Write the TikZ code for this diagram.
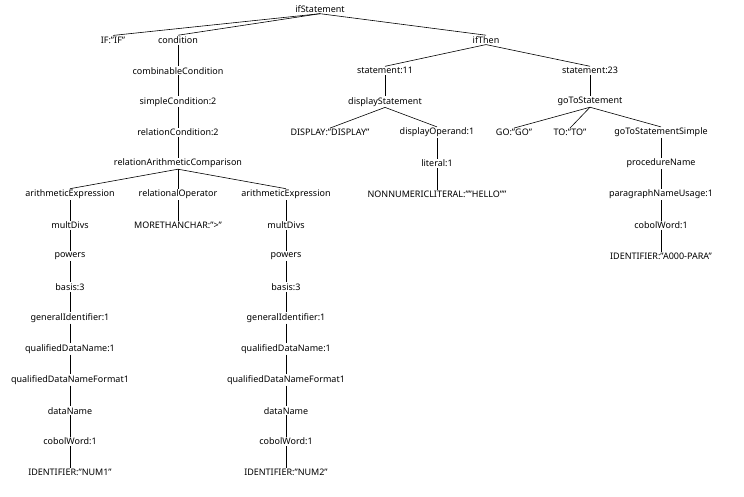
\documentclass[tikz,border=0pt]{standalone}
\usepackage{fontspec}
\setmainfont{Noto Sans}
\begin{document}
\begin{tikzpicture}[x=1pt,y=-1pt,
  t/.style={inner sep=1pt,font=\fontsize{9}{10}\selectfont},
  e/.style={draw=black,line width=0.6pt}]
\useasboundingbox (0,0) rectangle (744,497);
\def\R#1{(#1*30.9+9)}
\foreach \n/\x/\r/\s in {
 ifs/320/0/ifStatement, if/113/1/{IF:"IF"}, cond/178/1/condition, then/486/1/ifThen,
 comb/178/2/combinableCondition, simp/178/3/simpleCondition:2, rel/178/4/relationCondition:2,
 rac/178/5/relationArithmeticComparison,
 ae1/70/6/arithmeticExpression, ro/178/6/relationalOperator, ae2/286/6/arithmeticExpression,
 md1/70/7/multDivs, md2/286/7/multDivs, mt/178/7/{MORETHANCHAR:">"},
 pw1/70/8/powers, pw2/286/8/powers, bs1/70/9/basis:3, bs2/286/9/basis:3,
 gi1/70/10/generalIdentifier:1, gi2/286/10/generalIdentifier:1,
 qd1/70/11/qualifiedDataName:1, qd2/286/11/qualifiedDataName:1,
 qf1/70/12/qualifiedDataNameFormat1, qf2/286/12/qualifiedDataNameFormat1,
 dn1/70/13/dataName, dn2/286/13/dataName, cw1/70/14/cobolWord:1, cw2/286/14/cobolWord:1,
 id1/70/15/{IDENTIFIER:"NUM1"}, id2/286/15/{IDENTIFIER:"NUM2"},
 st11/385/2/statement:11, st23/590/2/statement:23,
 ds/385/3/displayStatement, dsp/330/4/{DISPLAY:"DISPLAY"}, dop/437/4/displayOperand:1,
 lit/437/5/literal:1, nnl/437/6/{NONNUMERICLITERAL:""HELLO""},
 gts/590/3/goToStatement, go/514/4/{GO:"GO"}, to/570/4/{TO:"TO"}, gss/661/4/goToStatementSimple,
 pn/661/5/procedureName, pnu/661/6/paragraphNameUsage:1, cw3/661/7/cobolWord:1,
 id3/661/8/{IDENTIFIER:"A000-PARA"}}
 { \node[t] (\n) at (\x,\r*30.9+9) {\s}; }
\foreach \a/\b in {ifs/if,ifs/cond,ifs/then,cond/comb,comb/simp,simp/rel,rel/rac,
 rac/ae1,rac/ro,rac/ae2,ae1/md1,ae2/md2,ro/mt,md1/pw1,md2/pw2,pw1/bs1,pw2/bs2,bs1/gi1,bs2/gi2,
 gi1/qd1,gi2/qd2,qd1/qf1,qd2/qf2,qf1/dn1,qf2/dn2,dn1/cw1,dn2/cw2,cw1/id1,cw2/id2,
 then/st11,then/st23,st11/ds,ds/dsp,ds/dop,dop/lit,lit/nnl,st23/gts,gts/go,gts/to,gts/gss,
 gss/pn,pn/pnu,pnu/cw3,cw3/id3}
 { \draw[e] (\a.south) -- (\b.north); }
\end{tikzpicture}
\end{document}
